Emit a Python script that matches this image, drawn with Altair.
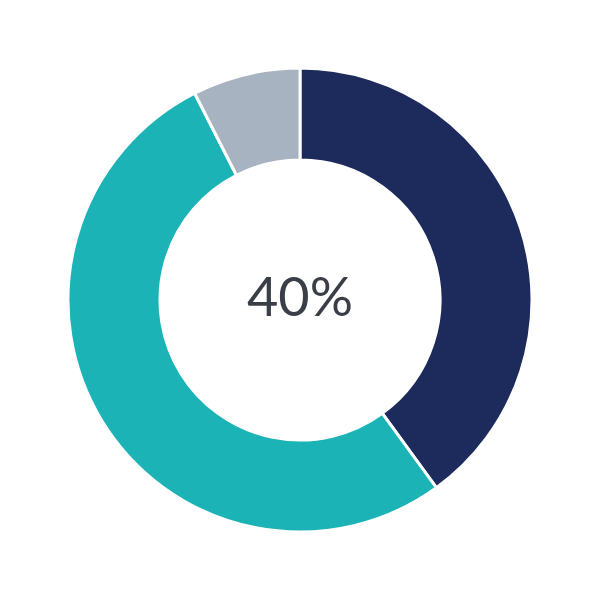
import altair as alt
import pandas as pd

categories = ["A", "B", "C"]
values = [40, 52.5, 7.5]
colors = ["#1c2b5b", "#1bb3b5", "#a8b3c2"]
center_label = "40%"

df = pd.DataFrame({"category": categories, "value": values, "order": [0, 1, 2]})

arc = alt.Chart(df).mark_arc(
    innerRadius=140, outerRadius=232, stroke="white", strokeWidth=3
).encode(
    theta=alt.Theta("value:Q", stack=True),
    color=alt.Color("category:N", scale=alt.Scale(domain=categories, range=colors), legend=None),
    order=alt.Order("order:Q"),
)

text = alt.Chart(pd.DataFrame({"t": [center_label]})).mark_text(
    font="Lato", fontSize=54, color="#3a3f47", fontWeight=400
).encode(text="t:N")

chart = alt.layer(arc, text).properties(
    width=584, height=584, padding=0, autosize=alt.AutoSizeParams(type="none")
).configure_view(stroke=None)

chart.save("out.html", embed_options={"renderer": "svg", "actions": False})
